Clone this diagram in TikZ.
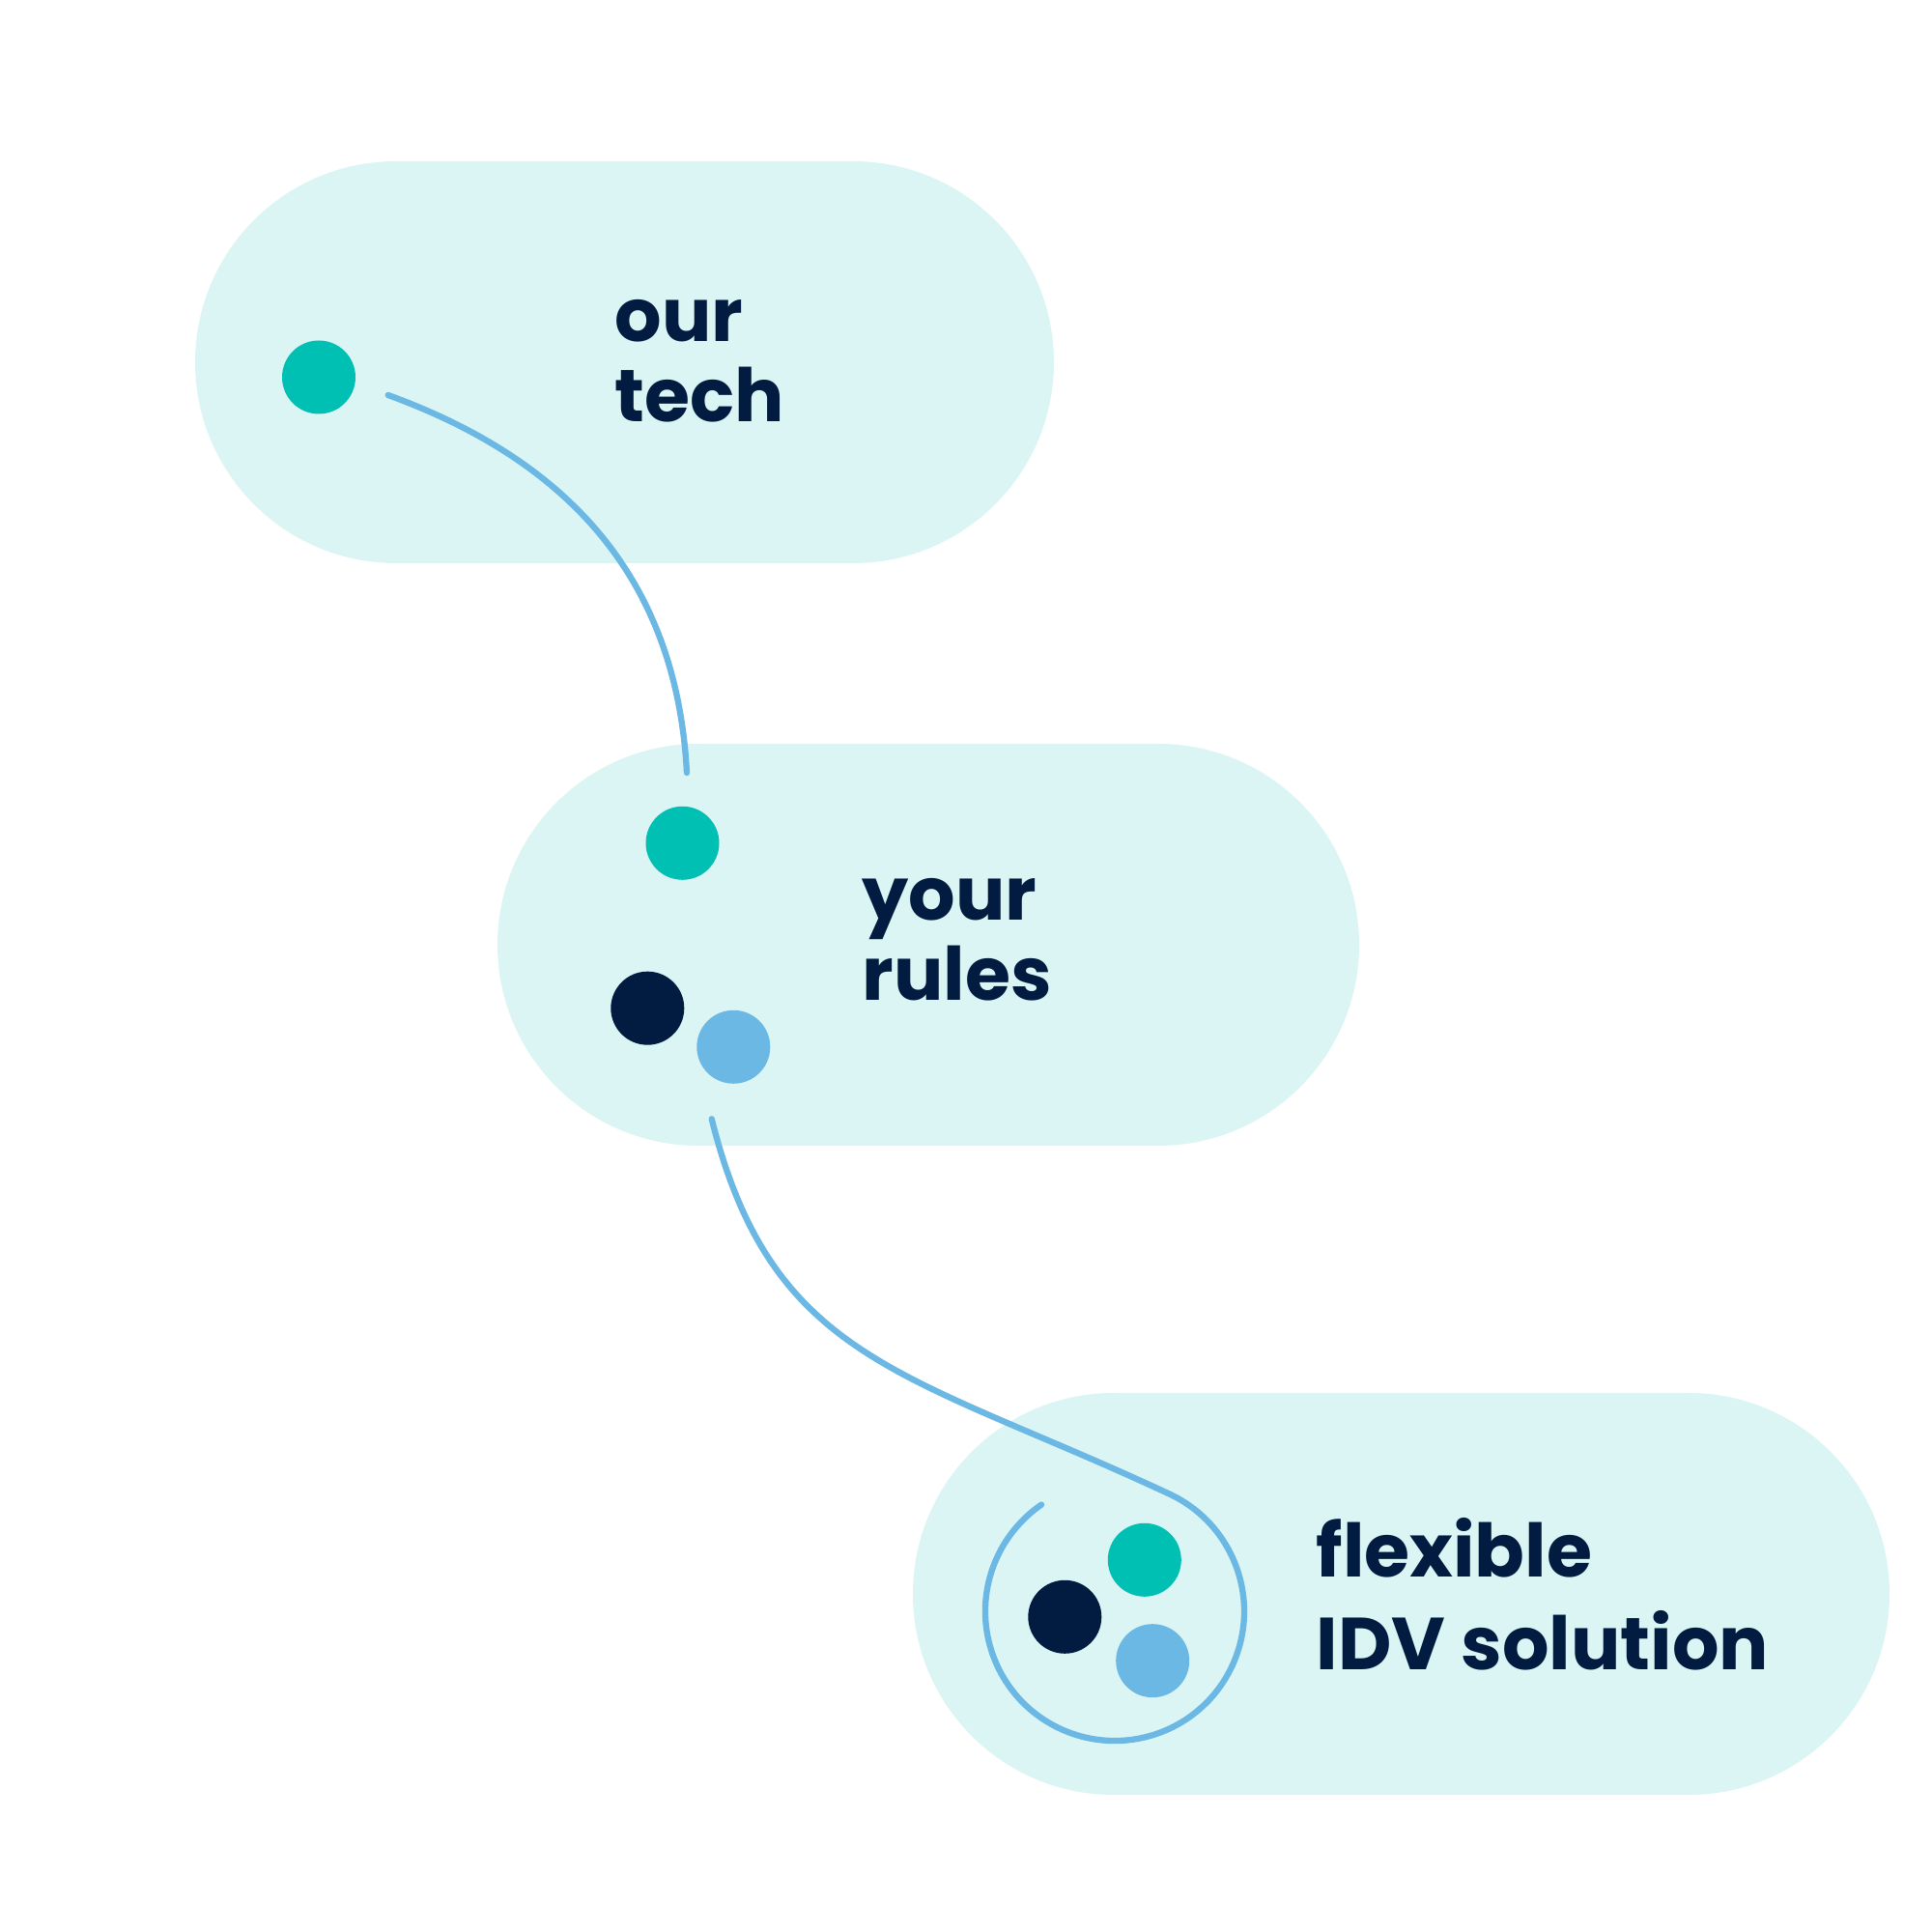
\documentclass[tikz,border=0pt]{standalone}
\usepackage{fontspec}
\setmainfont{Poppins}
\usetikzlibrary{backgrounds}

\definecolor{pillbg}{HTML}{DAF5F4}
\definecolor{tealdot}{HTML}{00BFB3}
\definecolor{navydot}{HTML}{021C41}
\definecolor{bluedot}{HTML}{6CB8E4}

\begin{document}
\begin{tikzpicture}[background rectangle/.style={fill=white}, show background rectangle, inner frame sep=0pt,
  pill/.style={fill=pillbg, rounded corners=2.08cm, minimum height=4.16cm, inner sep=0pt, outer sep=0pt},
  ball/.style={circle, minimum size=0.76cm, inner sep=0pt},
  pilltext/.style={anchor=base west, align=left, inner sep=0pt, text=navydot, font=\bfseries\fontsize{21.7}{23.7}\selectfont},
  wire/.style={draw=bluedot, line width=1.8pt, line cap=round}]

  % Fix the canvas
  \path (0,0) rectangle (20,20);

  % Draw the pills
  \node[pill, minimum width=8.89cm] (tech) at (6.465,16.25) {};
  \node[pill, minimum width=8.92cm] (rules) at (9.61,10.22) {};
  \node[pill, minimum width=10.11cm] (idv) at (14.505,3.50) {};

  % Add the texts (anchored at the last baseline)
  \node[pilltext] (techtext) at (6.36,15.633) {our\\tech};
  \node[pilltext] (rulestext) at (8.92,9.64) {your\\rules};
  \node[pilltext] (idvtext) at (13.62,2.717) {flexible\\[3.5pt]IDV solution};

  % Draw the dots
  \node[ball, fill=tealdot] (tealA) at (3.30,16.095) {};
  \node[ball, fill=tealdot] (tealB) at (7.065,11.272) {};
  \node[ball, fill=navydot] (navyB) at (6.703,9.563) {};
  \node[ball, fill=bluedot] (blueB) at (7.593,9.162) {};
  \node[ball, fill=tealdot] (tealC) at (11.848,3.852) {};
  \node[ball, fill=navydot] (navyC) at (11.023,3.262) {};
  \node[ball, fill=bluedot] (blueC) at (11.932,2.808) {};

  % Draw the connectors
  \coordinate (wireAstart) at (4.017,15.91);
  \coordinate (wireAend) at (7.11,12.0);
  \draw[wire] (wireAstart) .. controls (5.897,15.226) and (7.005,13.997) .. (wireAend);

  \coordinate (wireBstart) at (7.367,8.417);
  \coordinate (wireBloop) at (12.106,4.534);
  \draw[wire] (wireBstart) .. controls (7.996,5.895) and (9.388,5.803) .. (wireBloop)
    arc[start angle=65, end angle=-235.5, radius=1.34];

\end{tikzpicture}
\end{document}
